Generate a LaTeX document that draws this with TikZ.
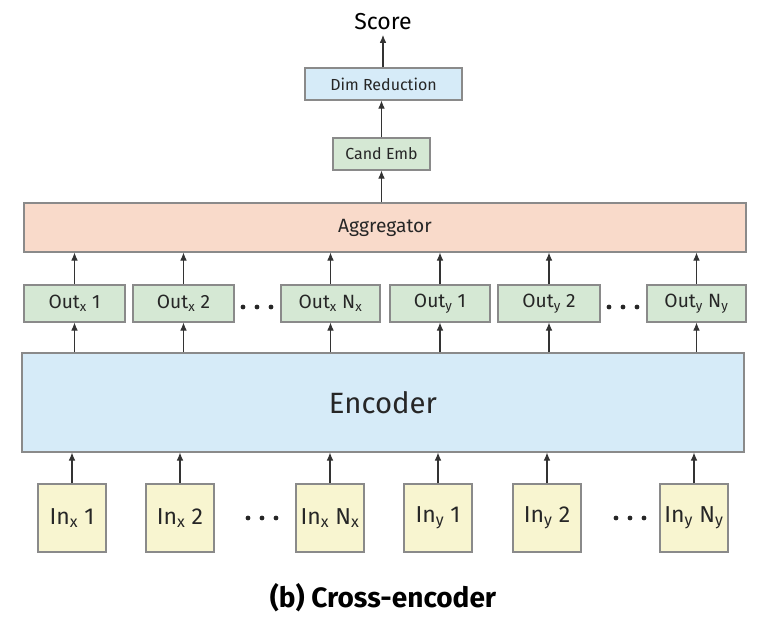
\documentclass[tikz,border=0pt]{standalone}
\usepackage{fontspec}
\setmainfont{Fira Sans}
\usetikzlibrary{arrows.meta}
\definecolor{bblue}{HTML}{D6EBF8}
\definecolor{bgreen}{HTML}{D5E8D4}
\definecolor{borange}{HTML}{F9DACA}
\definecolor{byellow}{HTML}{F8F5D0}
\definecolor{edge}{HTML}{8A8A8A}
\begin{document}
\begin{tikzpicture}[x=0.75pt,y=-0.75pt,
 box/.style={draw=edge,line width=0.8pt,inner sep=0pt,text=black!85},
 arr/.style={-{Latex[length=6pt,width=5pt]},line width=0.8pt,black!80}]
\useasboundingbox (0,0) rectangle (772,628);
\node[font=\LARGE] (score) at (383,22) {Score};
\node[box,fill=bblue,minimum width=117.75pt,minimum height=24pt,font=\large] (dim) at (383.5,84) {Dim Reduction};
\node[box,fill=bgreen,minimum width=72.75pt,minimum height=24pt,font=\large] (cand) at (381.5,154) {Cand Emb};
\node[box,fill=borange,minimum width=541.5pt,minimum height=36.75pt,font=\Large] (agg) at (385,227.5) {Aggregator};
\node[box,fill=bblue,minimum width=541.5pt,minimum height=74.25pt,font=\fontsize{22}{26}\selectfont] (enc) at (383,402.5) {Encoder};
\foreach \n/\a/\b/\t in {ox1/24/125/{Out\textsubscript{x} 1},ox2/133/234/{Out\textsubscript{x} 2},oxn/281/380/{Out\textsubscript{x} N\textsubscript{x}},oy1/390/490/{Out\textsubscript{y} 1},oy2/498/600/{Out\textsubscript{y} 2},oyn/647/746/{Out\textsubscript{y} N\textsubscript{y}}}{
 \node[box,fill=bgreen,minimum width={(\b-\a)*0.75pt},minimum height=27.75pt,font=\Large] (\n) at ({(\a+\b)/2},303.5) {\t};
 \draw[arr] (enc.north -| \n.south) -- (\n.south);
 \draw[arr] (\n.north) -- (agg.south -| \n.north);
}
\foreach \n/\a/\b/\t in {ix1/38/106/{In\textsubscript{x} 1},ix2/146/214/{In\textsubscript{x} 2},ixn/296/364/{In\textsubscript{x} N\textsubscript{x}},iy1/404/472/{In\textsubscript{y} 1},iy2/513/581/{In\textsubscript{y} 2},iyn/660/728/{In\textsubscript{y} N\textsubscript{y}}}{
 \node[box,fill=byellow,minimum width=51pt,minimum height=51pt,font=\LARGE] (\n) at ({(\a+\b)/2},518) {\t};
 \draw[arr] (\n.north) -- (enc.south -| \n.north);
}
\foreach \n/\x/\y in {d1/257/307,d2/623/307,d3/262/518,d4/630/518}{
 \coordinate (\n) at (\x,\y);
 \foreach \k in {-14,0,14} \fill[black!85] ([xshift=\k*0.75pt]\n) circle (1.8pt);
}
\draw[arr] (agg.north -| cand.south) -- (cand.south);
\draw[arr] (cand.north) -- (dim.south -| cand.north);
\draw[arr] (dim.north -| score.south) -- (score.south);
\node[font=\fontsize{21}{25}\selectfont\bfseries] (cap) at (383,598) {(b) Cross-encoder};
\end{tikzpicture}
\end{document}
